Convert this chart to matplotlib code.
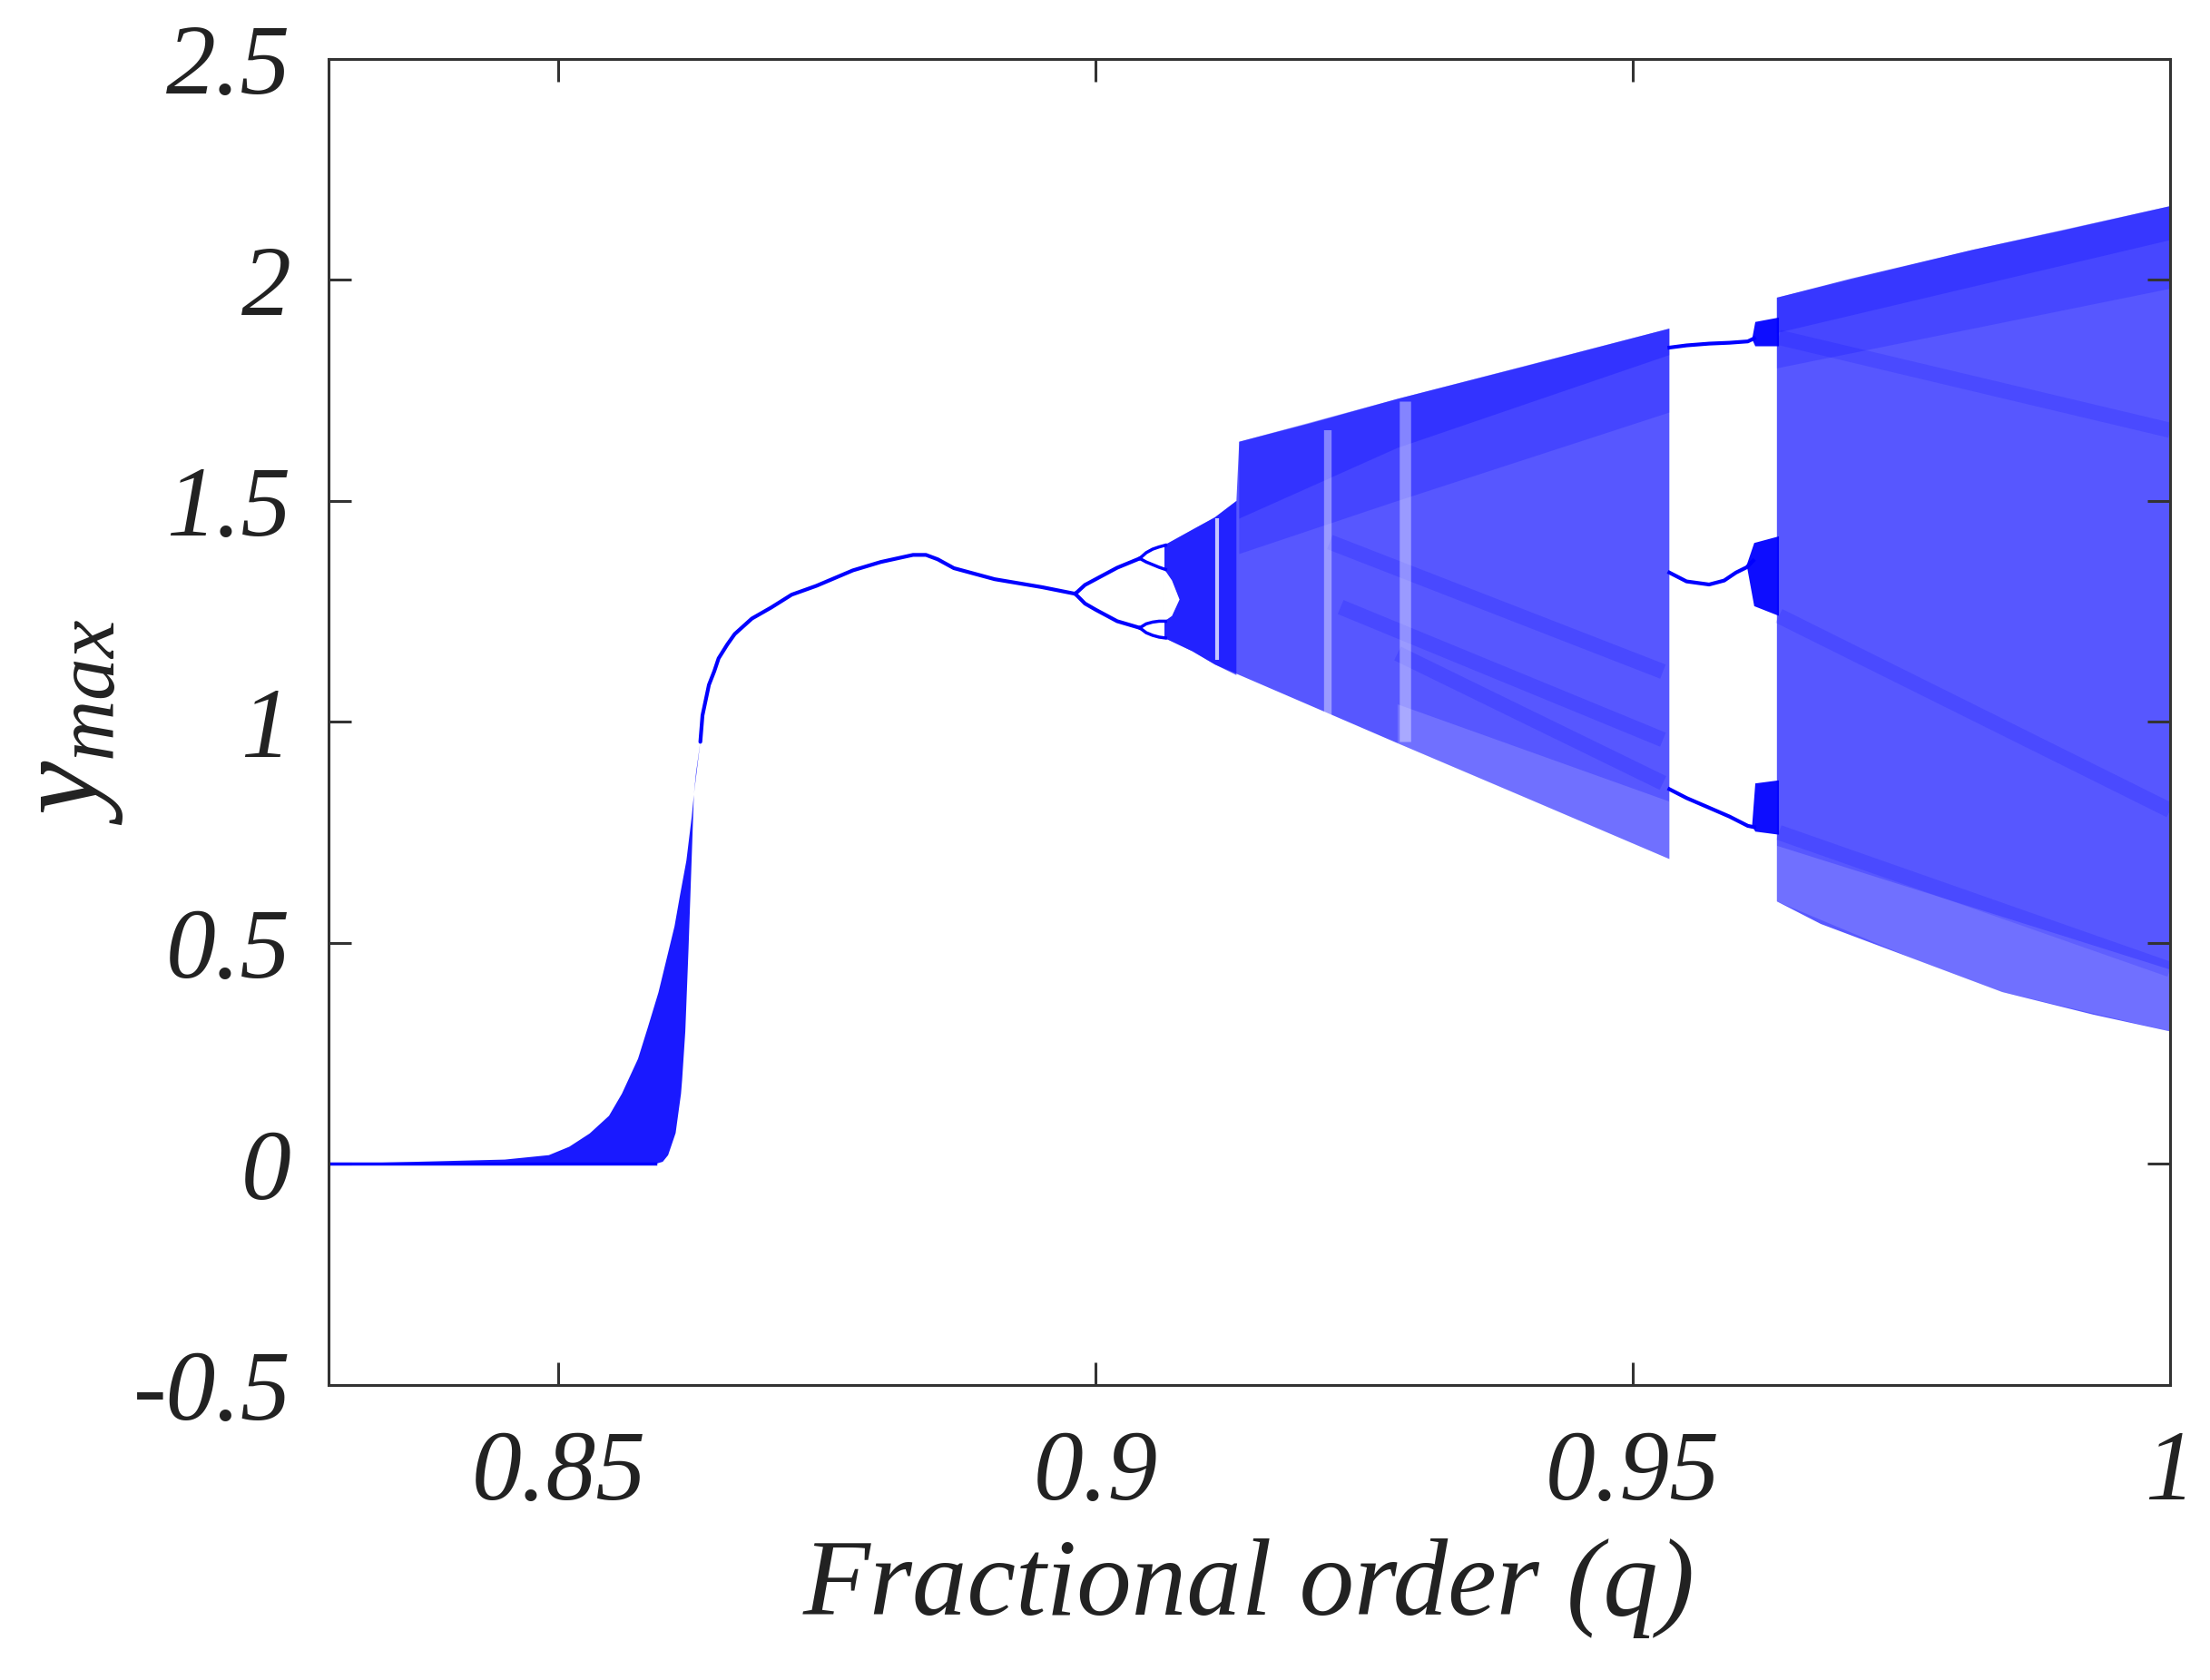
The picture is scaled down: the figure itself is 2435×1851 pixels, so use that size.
import numpy as np
import matplotlib
matplotlib.use('Agg')
import matplotlib.pyplot as plt
from matplotlib.font_manager import FontProperties

# ---------------- data (q, y_max) ----------------
# transient band near y = 0 that rises steeply around q = 0.86
band_left_q = [0.8286, 0.8450, 0.8491, 0.8510, 0.8529, 0.8547, 0.8559, 0.8574, 0.8583,
               0.8593, 0.8600, 0.8608, 0.8613, 0.8619, 0.8624, 0.8628, 0.8632]
band_left_y = [0.000, 0.010, 0.020, 0.039, 0.069, 0.109, 0.159, 0.238, 0.308,
               0.388, 0.458, 0.538, 0.607, 0.686, 0.786, 0.885, 0.955]
band_right_q = [0.8632, 0.8626, 0.8621, 0.8618, 0.8615, 0.8614, 0.8609, 0.8602, 0.8597, 0.8590, 0.8286]
band_right_y = [0.955, 0.836, 0.487, 0.300, 0.189, 0.159, 0.070, 0.020, 0.005, 0.000, 0.000]

# period-1 branch
p1_q = [0.8632, 0.8634, 0.8640, 0.8645, 0.8649, 0.8657, 0.8664, 0.8680, 0.8698, 0.8717,
        0.8740, 0.8774, 0.8800, 0.8830, 0.8842, 0.8853, 0.8868, 0.8906, 0.8950, 0.8981]
p1_y = [0.955, 1.015, 1.084, 1.115, 1.144, 1.175, 1.199, 1.234, 1.259, 1.288,
        1.308, 1.343, 1.362, 1.378, 1.378, 1.368, 1.348, 1.323, 1.305, 1.290]

# period-2 branches
p2_q = [0.8981, 0.8990, 0.9000, 0.9020, 0.9041]
p2_up_y = [1.290, 1.310, 1.323, 1.349, 1.370]
p2_lo_y = [1.290, 1.268, 1.254, 1.228, 1.213]

# period-4 sub-branches
p4_q = [0.9041, 0.9047, 0.9053, 0.9059, 0.9065]
p4_up_out = [1.370, 1.383, 1.391, 1.396, 1.400]
p4_up_in = [1.370, 1.362, 1.356, 1.350, 1.345]
p4_lo_in = [1.213, 1.222, 1.226, 1.228, 1.228]
p4_lo_out = [1.213, 1.202, 1.196, 1.192, 1.190]

# first chaotic region: envelopes
c1_up_q = [0.9064, 0.9090, 0.9111, 0.9131, 0.91336, 0.9200, 0.9281, 0.9400, 0.9534]
c1_up_y = [1.400, 1.435, 1.463, 1.500, 1.634, 1.676, 1.731, 1.805, 1.890]
c1_lo_q = [0.9534, 0.9400, 0.9281, 0.9134, 0.9111, 0.9090, 0.9064]
c1_lo_y = [0.690, 0.829, 0.952, 1.106, 1.130, 1.160, 1.190]
# inner hole closing inside the first chaotic region
c1_hole_q = [0.9064, 0.9071, 0.9078, 0.9071, 0.9064]
c1_hole_y = [1.228, 1.240, 1.277, 1.320, 1.345]
# denser / sparser parts of the first chaotic region
c1_dense_early_q = [0.9064, 0.9090, 0.9111, 0.9131, 0.9131, 0.9111, 0.9090, 0.9064]
c1_dense_early_y = [1.400, 1.435, 1.463, 1.500, 1.106, 1.130, 1.160, 1.190]
c1_dense_top_a_q = [0.91336, 0.9281, 0.9534, 0.9534, 0.9281, 0.91336]
c1_dense_top_a_y = [1.634, 1.731, 1.890, 1.700, 1.500, 1.380]
c1_dense_top_b_q = [0.91336, 0.9281, 0.9534, 0.9534, 0.9281, 0.91336]
c1_dense_top_b_y = [1.634, 1.731, 1.890, 1.830, 1.620, 1.460]
c1_sparse_low_q = [0.9281, 0.9534, 0.9534, 0.9281]
c1_sparse_low_y = [0.952, 0.690, 0.820, 1.040]
# dark streaks (start q, start y, end q, end y)
c1_streak_q0 = [0.9218, 0.9228, 0.9281]
c1_streak_y0 = [1.407, 1.260, 1.155]
c1_streak_q1 = [0.9528, 0.9528, 0.9528]
c1_streak_y1 = [1.114, 0.960, 0.862]
# light vertical gaps (periodic windows)
gap_q = [0.9113, 0.9216, 0.9288]
gap_lo = [1.140, 0.990, 0.955]
gap_hi = [1.460, 1.660, 1.725]

# period-3 window
w_up_q = [0.9534, 0.9550, 0.9571, 0.9590, 0.9607, 0.9613]
w_up_y = [1.847, 1.852, 1.856, 1.858, 1.861, 1.868]
w_mid_q = [0.9534, 0.9550, 0.9571, 0.9585, 0.9596, 0.9606, 0.9612]
w_mid_y = [1.338, 1.318, 1.311, 1.320, 1.338, 1.350, 1.365]
w_lo_q = [0.9534, 0.9550, 0.9571, 0.9590, 0.9607, 0.9613]
w_lo_y = [0.848, 0.828, 0.806, 0.786, 0.765, 0.762]
# small chaotic bands at the end of the window
t_up_q = [0.9611, 0.9614, 0.9636, 0.9636, 0.9614]
t_up_y = [1.866, 1.905, 1.915, 1.850, 1.850]
t_mid_q = [0.9606, 0.9613, 0.9636, 0.9636, 0.9613]
t_mid_y = [1.355, 1.405, 1.420, 1.240, 1.262]
t_lo_q = [0.9611, 0.9614, 0.9636, 0.9636, 0.9614]
t_lo_y = [0.765, 0.861, 0.868, 0.745, 0.752]

# second chaotic region
c2_up_q = [0.96341, 0.9703, 0.9816, 0.9900, 1.0000]
c2_up_y = [1.960, 2.003, 2.068, 2.112, 2.167]
c2_lo_q = [1.0000, 0.99284, 0.98439, 0.97594, 0.9675, 0.96341]
c2_lo_y = [0.300, 0.338, 0.389, 0.466, 0.543, 0.594]
c2_dense_top_a_q = [0.96341, 0.9816, 1.0000, 1.0000, 0.96341]
c2_dense_top_a_y = [1.960, 2.068, 2.167, 1.980, 1.800]
c2_dense_top_b_q = [0.96341, 0.9816, 1.0000, 1.0000, 0.96341]
c2_dense_top_b_y = [1.960, 2.068, 2.167, 2.090, 1.880]
c2_sparse_low_q = [0.96341, 0.97594, 0.98439, 1.0000, 1.0000, 0.96341]
c2_sparse_low_y = [0.594, 0.466, 0.389, 0.300, 0.440, 0.720]
c2_streak_q0 = [0.9636, 0.9636, 0.9636]
c2_streak_y0 = [1.870, 1.240, 0.750]
c2_streak_q1 = [1.0000, 1.0000, 1.0000]
c2_streak_y1 = [1.660, 0.800, 0.440]

x_ticks = [0.85, 0.90, 0.95, 1.00]
x_ticklabels = ['0.85', '0.9', '0.95', '1']
y_ticks = [-0.5, 0.0, 0.5, 1.0, 1.5, 2.0, 2.5]
y_ticklabels = ['-0.5', '0', '0.5', '1', '1.5', '2', '2.5']

# ---------------- fonts ----------------
plt.rcParams['mathtext.fontset'] = 'custom'
plt.rcParams['mathtext.it'] = 'Liberation Serif:italic'
plt.rcParams['mathtext.rm'] = 'Liberation Serif'


def serif_italic(size):
    return FontProperties(family='Liberation Serif', style='italic', size=size)


# ---------------- drawing ----------------
BLUE = '#0000ff'
fig = plt.figure(figsize=(24.35, 18.51), dpi=100)
ax = fig.add_axes([0.1487, 0.1756, 0.9819 - 0.1487, 0.9649 - 0.1756])

# transient band
ax.fill(band_left_q + band_right_q, band_left_y + band_right_y, color=BLUE, alpha=0.9, lw=0)
ax.plot([band_left_q[0], band_right_q[-2]], [0, 0], color=BLUE, lw=2.5)

# periodic branches
lw = 3.0
ax.plot(p1_q, p1_y, color=BLUE, lw=lw, solid_capstyle='round', solid_joinstyle='round')
ax.plot(p2_q, p2_up_y, color=BLUE, lw=lw)
ax.plot(p2_q, p2_lo_y, color=BLUE, lw=lw)
for ys in (p4_up_out, p4_up_in, p4_lo_in, p4_lo_out):
    ax.plot(p4_q, ys, color=BLUE, lw=2.5)

# chaotic region 1
poly_q = c1_up_q + c1_lo_q + c1_hole_q
poly_y = c1_up_y + c1_lo_y + c1_hole_y
ax.fill(poly_q, poly_y, color=BLUE, alpha=0.66, lw=0)
ax.fill(c1_dense_early_q, c1_dense_early_y, color=BLUE, alpha=0.6, lw=0)
ax.fill(c1_hole_q, c1_hole_y, color='white', lw=0)
ax.fill(c1_dense_top_a_q, c1_dense_top_a_y, color=BLUE, alpha=0.2, lw=0)
ax.fill(c1_dense_top_b_q, c1_dense_top_b_y, color=BLUE, alpha=0.25, lw=0)
ax.fill(c1_sparse_low_q, c1_sparse_low_y, color='white', alpha=0.15, lw=0)
for q0, y0, q1, y1 in zip(c1_streak_q0, c1_streak_y0, c1_streak_q1, c1_streak_y1):
    ax.plot([q0, q1], [y0, y1], color=BLUE, lw=12, alpha=0.16, solid_capstyle='butt')
ax.vlines(gap_q, gap_lo, gap_hi, colors='white', lw=[3, 6, 9], alpha=[0.75, 0.4, 0.4])

# window
for qq, yy in ((w_up_q, w_up_y), (w_mid_q, w_mid_y), (w_lo_q, w_lo_y)):
    ax.plot(qq, yy, color=BLUE, lw=lw)
for qq, yy in ((t_up_q, t_up_y), (t_mid_q, t_mid_y), (t_lo_q, t_lo_y)):
    ax.fill(qq, yy, color=BLUE, alpha=0.95, lw=0)

# chaotic region 2
ax.fill(c2_up_q + c2_lo_q, c2_up_y + c2_lo_y, color=BLUE, alpha=0.66, lw=0)
ax.fill(c2_dense_top_a_q, c2_dense_top_a_y, color=BLUE, alpha=0.18, lw=0)
ax.fill(c2_dense_top_b_q, c2_dense_top_b_y, color=BLUE, alpha=0.22, lw=0)
ax.fill(c2_sparse_low_q, c2_sparse_low_y, color='white', alpha=0.15, lw=0)
for q0, y0, q1, y1 in zip(c2_streak_q0, c2_streak_y0, c2_streak_q1, c2_streak_y1):
    ax.plot([q0, q1], [y0, y1], color=BLUE, lw=12, alpha=0.15, solid_capstyle='butt')

# axes styling
ax.set_xlim(0.8286, 1.0)
ax.set_ylim(-0.5, 2.5)
ax.set_xticks(x_ticks)
ax.set_xticklabels(x_ticklabels)
ax.set_yticks(y_ticks)
ax.set_yticklabels(y_ticklabels)
tick_fp = serif_italic(79)
for lab in ax.get_xticklabels() + ax.get_yticklabels():
    lab.set_fontproperties(tick_fp)
    lab.set_color('#222222')
ax.tick_params(direction='in', length=18, width=2.2, top=True, right=True,
               color='#333333', pad=30)
ax.tick_params(axis='x', pad=36)
for sp in ax.spines.values():
    sp.set_linewidth(2.2)
    sp.set_color('#333333')

ax.set_xlabel('Fractional order (q)', fontproperties=serif_italic(87),
              color='#222222', labelpad=14)
ax.set_ylabel(r'$y_{max}$', fontsize=96, color='#222222', labelpad=6)

fig.savefig('out.png', dpi=100, facecolor='white')
